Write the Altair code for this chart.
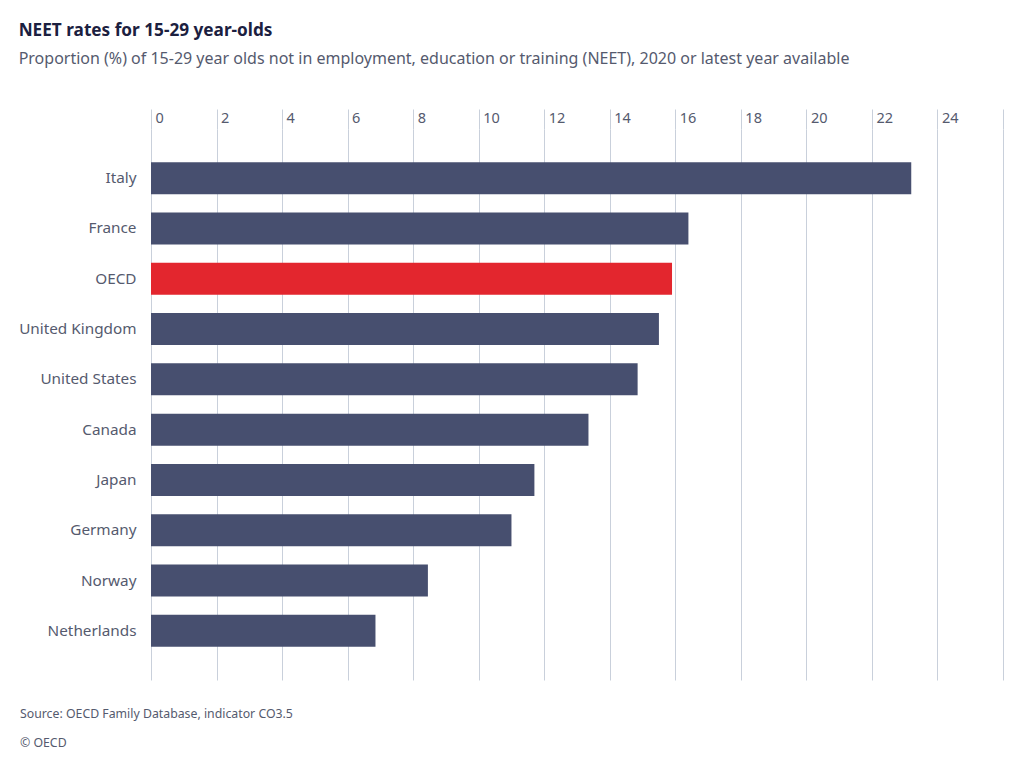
import altair as alt
import pandas as pd

countries = ["Italy", "France", "OECD", "United Kingdom", "United States",
             "Canada", "Japan", "Germany", "Norway", "Netherlands"]
values = [23.2, 16.4, 15.9, 15.5, 14.85, 13.35, 11.7, 11.0, 8.45, 6.85]
x_ticks = list(range(0, 27, 2))

title = "NEET rates for 15-29 year-olds"
subtitle = ("Proportion (%) of 15-29 year olds not in employment, education or "
            "training (NEET), 2020 or latest year available")
source = "Source: OECD Family Database, indicator CO3.5"
copyright_txt = "© OECD"

df = pd.DataFrame({"country": countries, "value": values,
                   "kind": ["OECD" if c == "OECD" else "Country" for c in countries]})

FONT = "Noto Sans"
GRID = "#c9d0db"
LABEL = "#555a6e"

bars = alt.Chart(df).mark_bar().encode(
    x=alt.X("value:Q",
            scale=alt.Scale(domain=[0, 26], nice=False, zero=True),
            axis=alt.Axis(orient="top", values=x_ticks, title=None, grid=True,
                          gridColor=GRID, gridWidth=1, domain=False,
                          ticks=True, tickSize=20, tickColor=GRID, tickWidth=1,
                          labelAlign="left", labelBaseline="alphabetic",
                          labelPadding=-13, labelOffset=4, labelFlush=False,
                          labelBound=False,
                          labelExpr="datum.value >= 26 ? '' : datum.label",
                          labelFont=FONT, labelFontSize=14.5, labelColor=LABEL)),
    y=alt.Y("country:N", sort=countries,
            scale=alt.Scale(paddingInner=0.364, paddingOuter=0.66),
            axis=alt.Axis(title=None, ticks=False, domain=False, labelPadding=15,
                          labelFont=FONT, labelFontSize=15.3, labelColor=LABEL)),
    color=alt.Color("kind:N",
                    scale=alt.Scale(domain=["Country", "OECD"],
                                    range=["#474f6f", "#e3262e"]),
                    legend=None),
)

src = alt.Chart(pd.DataFrame({"t": [source]})).mark_text(
    align="left", baseline="middle", font=FONT, fontSize=12.3, color=LABEL
).encode(text="t:N", x=alt.value(-131), y=alt.value(585))

cp = alt.Chart(pd.DataFrame({"t": [copyright_txt]})).mark_text(
    align="left", baseline="middle", font=FONT, fontSize=12.3, color=LABEL
).encode(text="t:N", x=alt.value(-131), y=alt.value(614))

chart = alt.layer(bars, src, cp).properties(
    width=852, height=551,
    title=alt.TitleParams(text=title, subtitle=subtitle, anchor="start",
                          frame="bounds", font=FONT, fontSize=17.2, fontWeight="bold",
                          color="#1b2040", subtitleFont=FONT, subtitleFontSize=16,
                          subtitleColor=LABEL, subtitlePadding=11.5, offset=42),
    padding={"left": 10, "top": 13, "right": 5, "bottom": 5},
).configure_view(stroke=None)

chart.save("out.html", embed_options={"renderer": "svg", "actions": False})
